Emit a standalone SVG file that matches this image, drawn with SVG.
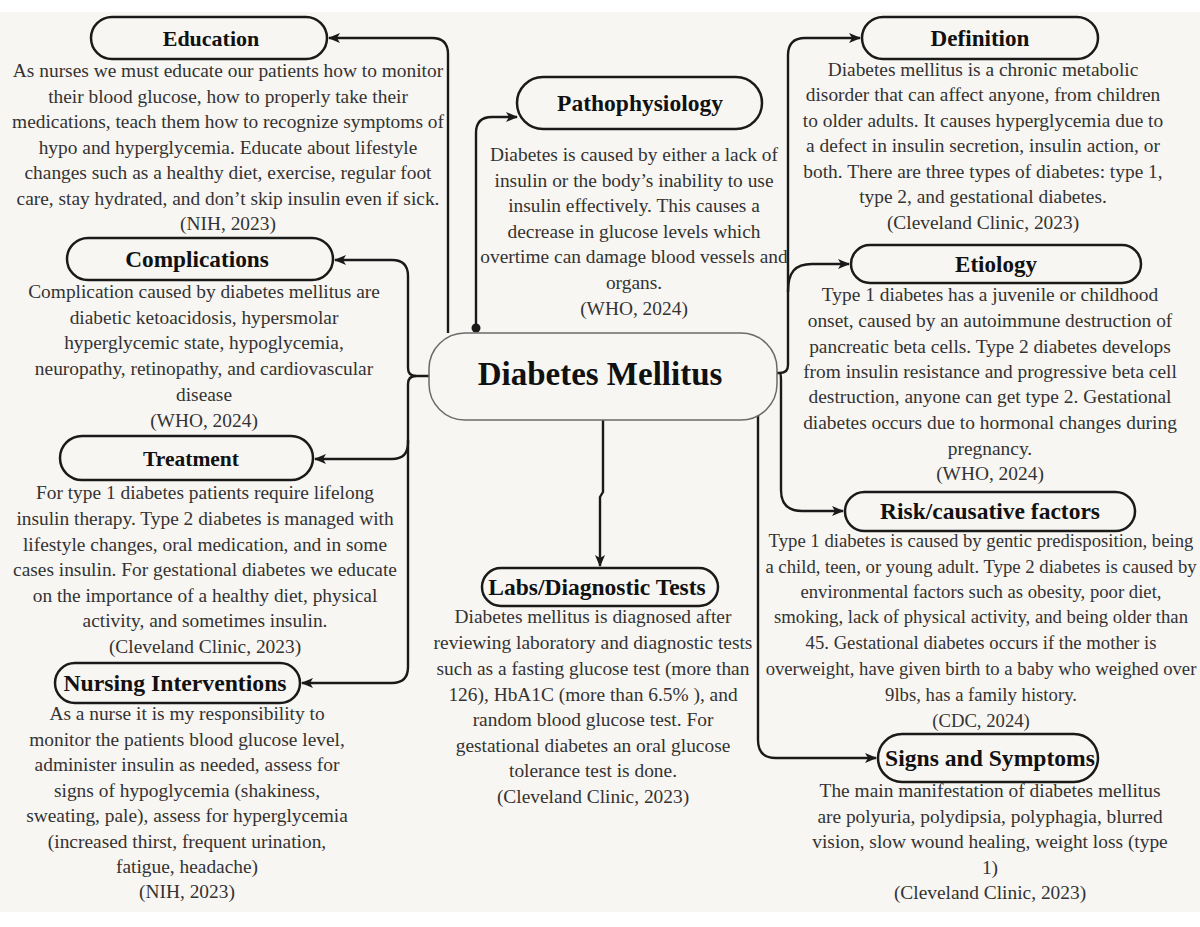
<svg xmlns="http://www.w3.org/2000/svg" width="1200" height="927" viewBox="0 0 1200 927">
<style>
.bg{fill:#f8f6f2}
.pill{fill:#f8f6f2;stroke:#1a1a1a;stroke-width:2.5}
.center{fill:#f8f6f2;stroke:#6a6a6a;stroke-width:1.5}
.title{font-family:"Liberation Serif","Times New Roman",serif;font-weight:bold;fill:#111;text-anchor:middle}
.body{font-family:"Liberation Serif","Times New Roman",serif;font-size:19.4px;fill:#333;text-anchor:middle}
.small{font-size:18.7px}
.conn{fill:none;stroke:#1a1a1a;stroke-width:2.4;stroke-linejoin:round}
.arr{marker-end:url(#ah)}
</style>
<defs>
<marker id="ah" viewBox="0 0 12 10" refX="11" refY="5" markerWidth="12" markerHeight="10" orient="auto" markerUnits="userSpaceOnUse">
<path d="M0,0 L12,5 L0,10 L3,5 z" fill="#1a1a1a"/>
</marker>
</defs>
<rect x="0" y="0" width="1200" height="927" fill="#ffffff"/>
<rect class="bg" x="0" y="12" width="1200" height="900"/>

<g id="connectors">
<path class="conn arr" d="M448,333 V54 Q448,38 432,38 H329"/>
<path class="conn arr" d="M476,328 V133 Q476,117 492,117 H517"/>
<circle cx="476" cy="328" r="4.5" fill="#1a1a1a"/>
<path class="conn arr" d="M429,376 H416 Q408,376 408,368 V276 Q408,260 392,260 H335"/>
<path class="conn arr" d="M416,376 Q408,376 408,384 V443 Q408,459 392,459 H315"/>
<path class="conn arr" d="M408,440 V667 Q408,683 392,683 H302"/>
<path class="conn arr" d="M603,420 V492 L600,497 V566"/>
<path class="conn arr" d="M777,373 H780 Q788,373 788,365 V55 Q788,38 805,38 H860"/>
<path class="conn arr" d="M788,292 C788,272 795,264 812,264 H849"/>
<path class="conn arr" d="M780,373 Q781,373 781,381 V490 Q781,511 802,511 H843"/>
<path class="conn arr" d="M758,398 V740 Q758,758 776,758 H876"/>
</g>

<g id="node-center">
<rect class="center" x="429" y="333" width="348" height="87" rx="36"/>
<text class="title" x="600" y="385" font-size="33">Diabetes Mellitus</text>
</g>

<g id="node-education">
<rect class="pill" x="91" y="17" width="236" height="42" rx="21"/>
<text class="title" x="211" y="46" font-size="22">Education</text>
<text class="body" x="228" y="77">As nurses we must educate our patients how to monitor</text>
<text class="body" x="228" y="103">their blood glucose, how to properly take their</text>
<text class="body" x="228" y="128">medications, teach them how to recognize symptoms of</text>
<text class="body" x="228" y="154">hypo and hyperglycemia. Educate about lifestyle</text>
<text class="body" x="228" y="179">changes such as a healthy diet, exercise, regular foot</text>
<text class="body" x="228" y="205">care, stay hydrated, and don’t skip insulin even if sick.</text>
<text class="body" x="228" y="230">(NIH, 2023)</text>
</g>

<g id="node-complications">
<rect class="pill" x="67" y="238" width="266" height="42" rx="21"/>
<text class="title" x="197" y="267" font-size="23.3">Complications</text>
<text class="body" x="204" y="298">Complication caused by diabetes mellitus are</text>
<text class="body" x="204" y="324">diabetic ketoacidosis, hypersmolar</text>
<text class="body" x="204" y="349">hyperglycemic state, hypoglycemia,</text>
<text class="body" x="204" y="375">neuropathy, retinopathy, and cardiovascular</text>
<text class="body" x="204" y="401">disease</text>
<text class="body" x="204" y="427">(WHO, 2024)</text>
</g>

<g id="node-treatment">
<rect class="pill" x="60" y="436" width="253" height="44" rx="22"/>
<text class="title" x="191" y="466" font-size="21.5">Treatment</text>
<text class="body" x="205" y="499">For type 1 diabetes patients require lifelong</text>
<text class="body" x="205" y="525">insulin therapy. Type 2 diabetes is managed with</text>
<text class="body" x="205" y="551">lifestyle changes, oral medication, and in some</text>
<text class="body" x="205" y="576">cases insulin. For gestational diabetes we educate</text>
<text class="body" x="205" y="602">on the importance of a healthy diet, physical</text>
<text class="body" x="205" y="627">activity, and sometimes insulin.</text>
<text class="body" x="205" y="653">(Cleveland Clinic, 2023)</text>
</g>

<g id="node-nursing">
<rect class="pill" x="55" y="663" width="245" height="40" rx="20"/>
<text class="title" x="175" y="691" font-size="23.7">Nursing Interventions</text>
<text class="body" x="187" y="720">As a nurse it is my responsibility to</text>
<text class="body" x="187" y="746">monitor the patients blood glucose level,</text>
<text class="body" x="187" y="771">administer insulin as needed, assess for</text>
<text class="body" x="187" y="797">signs of hypoglycemia (shakiness,</text>
<text class="body" x="187" y="822">sweating, pale), assess for hyperglycemia</text>
<text class="body" x="187" y="848">(increased thirst, frequent urination,</text>
<text class="body" x="187" y="873">fatigue, headache)</text>
<text class="body" x="187" y="898">(NIH, 2023)</text>
</g>

<g id="node-pathophysiology">
<rect class="pill" x="517" y="77" width="245" height="52" rx="26"/>
<text class="title" x="640" y="111" font-size="23.5">Pathophysiology</text>
<text class="body" x="634" y="161">Diabetes is caused by either a lack of</text>
<text class="body" x="634" y="187">insulin or the body’s inability to use</text>
<text class="body" x="634" y="212">insulin effectively. This causes a</text>
<text class="body" x="634" y="238">decrease in glucose levels which</text>
<text class="body" x="634" y="263">overtime can damage blood vessels and</text>
<text class="body" x="634" y="289">organs.</text>
<text class="body" x="634" y="315">(WHO, 2024)</text>
</g>

<g id="node-labs">
<rect class="pill" x="482" y="568" width="236" height="38" rx="19"/>
<text class="title" x="597" y="595" font-size="23.5">Labs/Diagnostic Tests</text>
<text class="body" x="593" y="623">Diabetes mellitus is diagnosed after</text>
<text class="body" x="593" y="649">reviewing laboratory and diagnostic tests</text>
<text class="body" x="593" y="675">such as a fasting glucose test (more than</text>
<text class="body" x="593" y="701">126), HbA1C (more than 6.5% ), and</text>
<text class="body" x="593" y="726">random blood glucose test. For</text>
<text class="body" x="593" y="752">gestational diabetes an oral glucose</text>
<text class="body" x="593" y="777">tolerance test is done.</text>
<text class="body" x="593" y="803">(Cleveland Clinic, 2023)</text>
</g>

<g id="node-definition">
<rect class="pill" x="862" y="17" width="236" height="42" rx="21"/>
<text class="title" x="980" y="46" font-size="23.1">Definition</text>
<text class="body" x="983" y="76">Diabetes mellitus is a chronic metabolic</text>
<text class="body" x="983" y="101">disorder that can affect anyone, from children</text>
<text class="body" x="983" y="127">to older adults. It causes hyperglycemia due to</text>
<text class="body" x="983" y="152">a defect in insulin secretion, insulin action, or</text>
<text class="body" x="983" y="178">both. There are three types of diabetes: type 1,</text>
<text class="body" x="983" y="203">type 2, and gestational diabetes.</text>
<text class="body" x="983" y="229">(Cleveland Clinic, 2023)</text>
</g>

<g id="node-etiology">
<rect class="pill" x="851" y="245" width="290" height="38" rx="19"/>
<text class="title" x="996" y="272" font-size="23">Etiology</text>
<text class="body" x="990" y="301">Type 1 diabetes has a juvenile or childhood</text>
<text class="body" x="990" y="327">onset, caused by an autoimmune destruction of</text>
<text class="body" x="990" y="353">pancreatic beta cells. Type 2 diabetes develops</text>
<text class="body" x="990" y="378">from insulin resistance and progressive beta cell</text>
<text class="body" x="990" y="403">destruction, anyone can get type 2. Gestational</text>
<text class="body" x="990" y="429">diabetes occurs due to hormonal changes during</text>
<text class="body" x="990" y="455">pregnancy.</text>
<text class="body" x="990" y="480">(WHO, 2024)</text>
</g>

<g id="node-risk">
<rect class="pill" x="845" y="492" width="290" height="39" rx="19.5"/>
<text class="title" x="990" y="519" font-size="23.5">Risk/causative factors</text>
<text class="body small" x="981" y="547">Type 1 diabetes is caused by gentic predisposition, being</text>
<text class="body small" x="981" y="573">a child, teen, or young adult. Type 2 diabetes is caused by</text>
<text class="body small" x="981" y="598">environmental factors such as obesity, poor diet,</text>
<text class="body small" x="981" y="623">smoking, lack of physical activity, and being older than</text>
<text class="body small" x="981" y="649">45. Gestational diabetes occurs if the mother is</text>
<text class="body small" x="981" y="675">overweight, have given birth to a baby who weighed over</text>
<text class="body small" x="981" y="701">9lbs, has a family history.</text>
<text class="body small" x="981" y="727">(CDC, 2024)</text>
</g>

<g id="node-signs">
<rect class="pill" x="878" y="734" width="220" height="48" rx="24"/>
<text class="title" x="990" y="766" font-size="23.6">Signs and Symptoms</text>
<text class="body" x="990" y="797">The main manifestation of diabetes mellitus</text>
<text class="body" x="990" y="823">are polyuria, polydipsia, polyphagia, blurred</text>
<text class="body" x="990" y="848">vision, slow wound healing, weight loss (type</text>
<text class="body" x="990" y="874">1)</text>
<text class="body" x="990" y="899">(Cleveland Clinic, 2023)</text>
</g>
</svg>
